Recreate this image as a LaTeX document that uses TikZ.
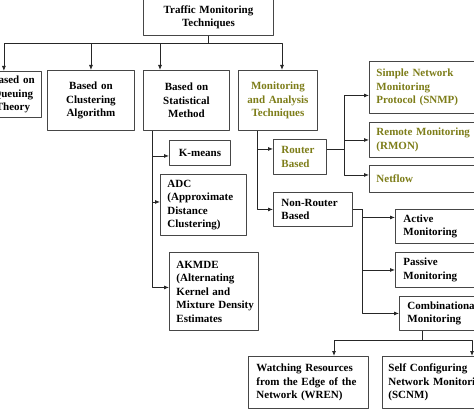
\documentclass[tikz,border=0pt]{standalone}
\usepackage{fontspec}
\setmainfont{Liberation Serif}
\usetikzlibrary{arrows.meta}
\definecolor{olivetext}{RGB}{125,125,25}
\definecolor{boxline}{RGB}{70,70,70}
\begin{document}
\begin{tikzpicture}[x=1pt, y=-1pt, >={Latex[length=5pt,width=4pt]}, line join=round,
	font=\fontsize{11}{13.5}\selectfont\bfseries,
	box/.style={draw=boxline, line width=0.9pt, inner ysep=0pt, anchor=north west},
	cbox/.style={box, align=center, inner xsep=2pt},
	lbox/.style={box, align=left, inner xsep=7pt},
	link/.style={draw=black!85, line width=0.8pt}]
	\useasboundingbox (0,0) rectangle (474,409);
	\clip (0,0) rectangle (474,409);
	\node[cbox, text width=126pt, minimum height=36pt] (tmt) at (143,-1) {Traffic Monitoring\\Techniques};
	\node[cbox, text width=53pt, minimum height=46pt] (queue) at (-16,71) {Based on\\Queuing\\Theory};
	\node[cbox, text width=83pt, minimum height=60pt] (clust) at (47,70) {Based on\\Clustering\\Algorithm};
	\node[cbox, text width=82pt, minimum height=60pt] (stat) at (143,70) {Based on\\Statistical\\Method};
	\node[cbox, text width=75pt, minimum height=60pt, text=olivetext] (mat) at (238,70) {Monitoring\\and Analysis\\Techniques};
	\node[cbox, text width=57pt, minimum height=25pt] (kmeans) at (169,140) {K-means};
	\node[lbox, text width=72pt, minimum height=61pt] (adc) at (160,174) {ADC\\(Approximate\\Distance\\Clustering)};
	\node[lbox, text width=75pt, minimum height=78pt] (akmde) at (169,252) {AKMDE\\(Alternating\\Kernel and\\\mbox{Mixture Density}\\Estimates};
	\node[lbox, inner xsep=8pt, text width=37pt, minimum height=35pt, text=olivetext] (router) at (273,139) {Router\\Based};
	\node[lbox, inner xsep=8pt, text width=63pt, minimum height=34pt] (nonrouter) at (273,192) {Non-Router\\Based};
	\node[lbox, text width=106pt, minimum height=52pt, text=olivetext] (snmp) at (369,61) {Simple Network\\Monitoring\\Protocol (SNMP)};
	\node[lbox, text width=106pt, minimum height=35pt, text=olivetext] (rmon) at (369,122) {Remote Monitoring\\(RMON)};
	\node[lbox, text width=106pt, minimum height=27pt, text=olivetext] (netflow) at (369,165) {Netflow};
	\node[lbox, inner xsep=8pt, text width=84pt, minimum height=34pt] (active) at (395,209) {Active\\Monitoring};
	\node[lbox, inner xsep=8pt, text width=84pt, minimum height=35pt] (passive) at (395,252) {Passive\\Monitoring};
	\node[lbox, inner xsep=8pt, text width=84pt, minimum height=34pt] (comb) at (399,296) {Combinational\\Monitoring};
	\node[lbox, inner xsep=8pt, text width=104pt, minimum height=52pt] (wren) at (248,356) {Watching Resources\\from the Edge of the\\Network (WREN)};
	\node[lbox, inner xsep=6pt, text width=108pt, minimum height=52pt] (scnm) at (382,356) {Self Configuring\\Network Monitoring\\(SCNM)};
	\draw[link] (tmt.south) -- ++(0,8) coordinate (bus);
	\draw[link,->] (bus) -| ([xshift=-38pt]queue.north east);
	\draw[link,->] (bus) -| (clust.north);
	\draw[link,->] (bus) -| ([xshift=17pt]stat.north west);
	\draw[link,->] (bus) -| ([xshift=44pt]mat.north west);
	\coordinate (sstem) at ([xshift=9pt]stat.south west);
	\draw[link,->] (sstem) |- ([yshift=4pt]akmde.west);
	\draw[link,->] (sstem |- kmeans.west) ++(0,3) -- ([yshift=-3pt]kmeans.west);
	\draw[link,->] (sstem |- adc.west) ++(0,-3) -- ([yshift=3pt]adc.west);
	\coordinate (mstem) at ([xshift=19pt]mat.south west);
	\draw[link,->] (mstem) |- (nonrouter.west);
	\draw[link,->] (mstem |- router.west) ++(0,-8) -- ([yshift=8pt]router.west);
	\draw[link] ([yshift=8pt]router.east) -- ++(17,0) coordinate (rbus);
	\draw[link,->] (rbus) |- ([yshift=-8pt]snmp.west);
	\draw[link,->] (rbus) |- (rmon.west);
	\draw[link,->] (rbus) |- ([yshift=4pt]netflow.west);
	\draw[link] (nonrouter.east) -- ++(9,0) coordinate (nbus);
	\draw[link,->] (nbus) |- ([yshift=9pt]active.west);
	\draw[link,->] (nbus) |- (passive.west);
	\draw[link,->] (nbus) |- (comb.west);
	\draw[link] ([xshift=23pt]comb.south west) -- ++(0,9) coordinate (cbus);
	\draw[link,->] (cbus) -| ([xshift=86pt]wren.north west);
	\draw[link,->] (cbus) -| ([xshift=90pt]scnm.north west);
\end{tikzpicture}
\end{document}
